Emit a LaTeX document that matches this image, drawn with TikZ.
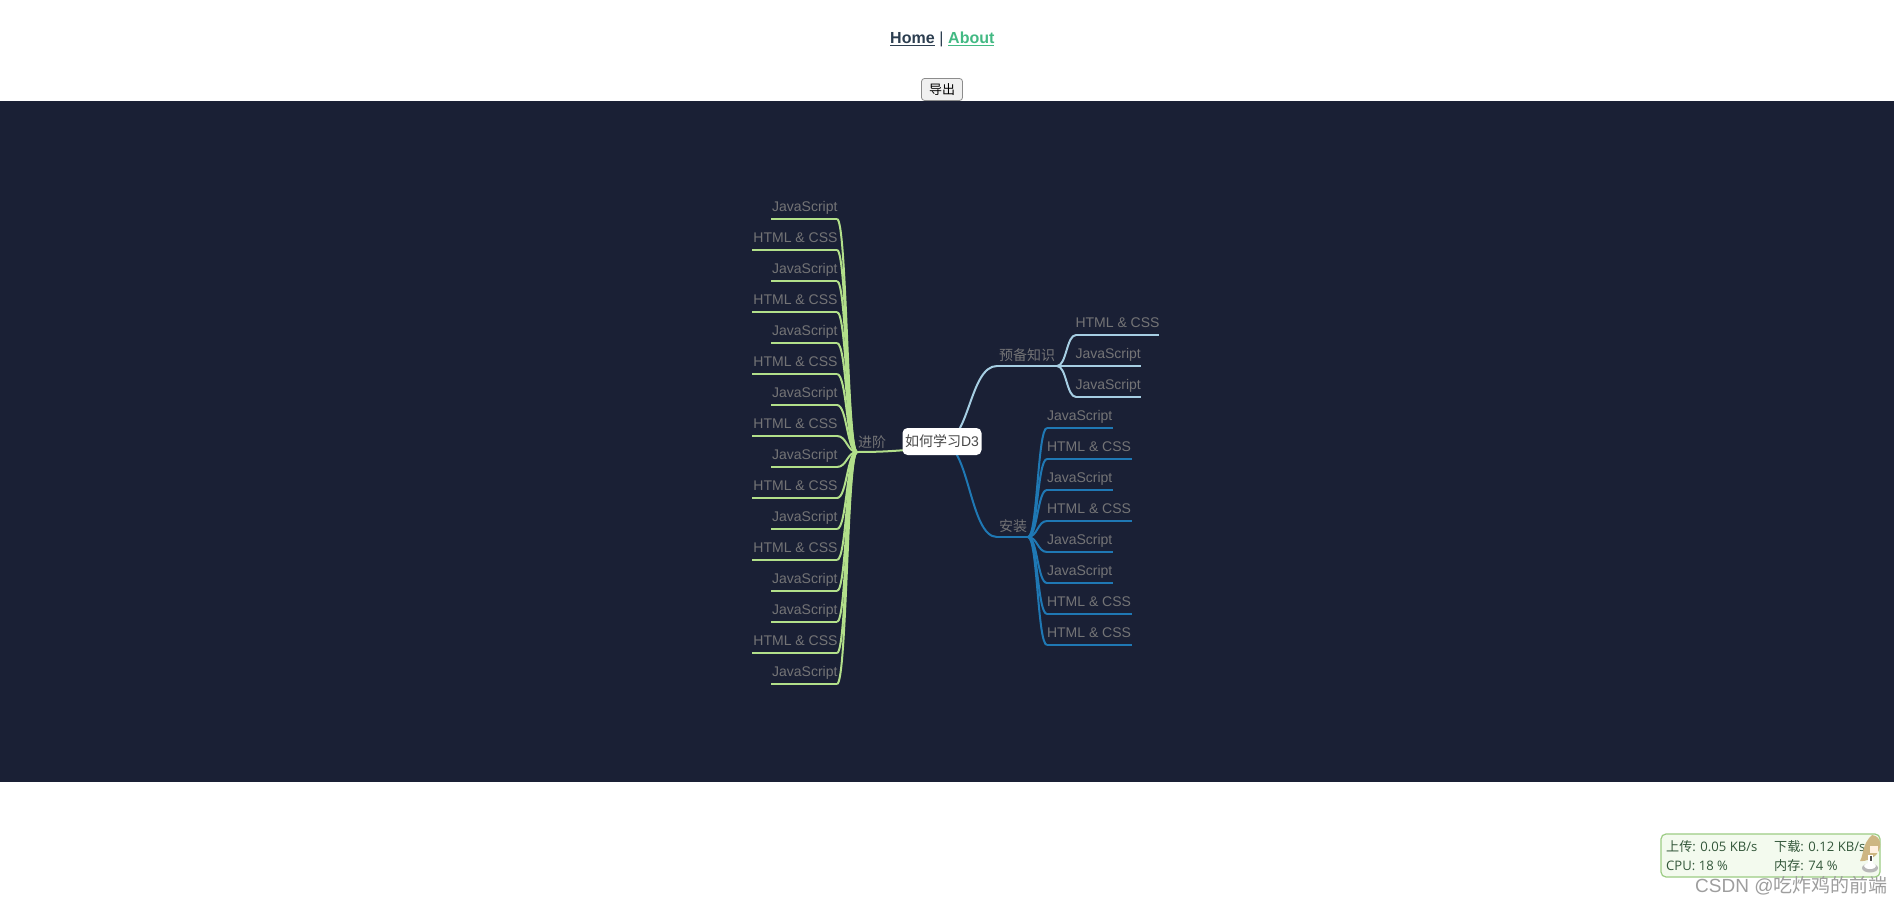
\documentclass[tikz,border=0pt]{standalone}
\usepackage{fontspec}
\usetikzlibrary{calc}
\setmainfont{Liberation Sans}
\newfontfamily\cjk{Noto Sans CJK SC}
\newfontfamily\lat{Liberation Sans}
\newfontfamily\wid{Open Sans}
\definecolor{pagedark}{HTML}{1A2035}
\definecolor{lab}{HTML}{747476}
\definecolor{gr}{HTML}{B2DF8A}
\definecolor{lb}{HTML}{A6CEE3}
\definecolor{db}{HTML}{1F78B4}
\definecolor{navd}{HTML}{2C3E50}
\definecolor{navg}{HTML}{42B983}
\definecolor{wgb}{HTML}{9CCC84}
\definecolor{wgf}{HTML}{F3FAEE}
\definecolor{wgt}{HTML}{33573A}
\definecolor{wm}{HTML}{9E9E9E}
\definecolor{hair}{HTML}{CDB682}
\tikzset{
  lbl/.style={font=\fontsize{14}{14}\selectfont\lat,text=lab,inner sep=0pt,outer sep=0pt},
  wdg/.style={font=\fontsize{13.1}{13}\selectfont\wid,text=wgt,inner sep=0pt,anchor=base west},
  lnk/.style={line width=2pt,line cap=butt,line join=round},
}
% \mmlink{colour}{from}{to}: horizontal S-curve between two named coordinates
\newcommand{\mmlink}[3]{%
  \coordinate (mid) at ($(#2)!.5!(#3)$);
  \draw[lnk,#1] (#2) .. controls (mid |- #2) and (mid |- #3) .. (#3);
}
\newcommand{\js}{JavaScript}
\newcommand{\hc}{HTML \& CSS}
\begin{document}
\begin{tikzpicture}[x=1pt,y=-1pt]
\useasboundingbox (0,0) rectangle (1902,904);
\fill[white] (0,0) rectangle (1902,904);
\fill[pagedark] (0,101) rectangle (1894,782);

% navigation
\node[font=\fontsize{16}{16}\selectfont\bfseries,text=navd,inner sep=0pt,anchor=base west] (home) at (890,44) {\underline{Home}};
\node[font=\fontsize{16}{16}\selectfont,text=navd,inner sep=0pt,anchor=base] (sep) at (941.5,44) {|};
\node[font=\fontsize{16}{16}\selectfont\bfseries,text=navg,inner sep=0pt,anchor=base west] (about) at (948,44) {\underline{About}};
\node[draw=black!45,line width=.8pt,fill=black!6,rounded corners=3pt,minimum width=41pt,minimum height=22pt,inner sep=0pt,font=\fontsize{13}{13}\selectfont\cjk,text=black] (logout) at (942,89.5) {导出};

% hubs
\coordinate (root) at (942,443);
\coordinate (rootg) at (942,449);
\coordinate (gh) at (857,452);
\coordinate (lh) at (1057,366);
\coordinate (bh) at (1028,537);
\coordinate (lk) at (997,366);
\coordinate (bk) at (997,537);

% green branch
\foreach \i/\y/\x/\t/\b in {1/219/771/\js/211.5,2/250/752/\hc/242,3/281/771/\js/273,4/312/752/\hc/304,5/343/771/\js/335,6/374/752/\hc/366,7/405/771/\js/397,8/436/752/\hc/428,9/467/771/\js/459,10/498/752/\hc/490,11/529/771/\js/521,12/560/752/\hc/552,13/591/771/\js/583,14/622/771/\js/614,15/653/752/\hc/645,16/684/771/\js/676}{
  \coordinate (gs\i) at (837,\y);
  \coordinate (ge\i) at (\x,\y);
  \mmlink{gr}{gh}{gs\i}
  \draw[lnk,gr] (gs\i) -- (ge\i);
  \node[lbl,anchor=base east] (gl\i) at (837.5,\b) {\t};
}
\mmlink{gr}{rootg}{gh}
\node[lbl,anchor=base west] (gt) at (858,447) {\cjk 进阶};

% light blue branch
\foreach \i/\y/\x/\t in {1/335/1159/\hc,2/366/1141/\js,3/397/1141/\js}{
  \coordinate (ls\i) at (1076,\y);
  \coordinate (le\i) at (\x,\y);
  \mmlink{lb}{lh}{ls\i}
  \draw[lnk,lb] (ls\i) -- (le\i);
  \node[lbl,anchor=base west] (ll\i) at (1075.5,\y-8) {\t};
}
\mmlink{lb}{root}{lk}
\draw[lnk,lb] (lk) -- (lh);
\node[lbl,anchor=base west] (lt) at (999,360) {\cjk 预备知识};

% dark blue branch
\foreach \i/\y/\x/\t in {1/428/1113/\js,2/459/1132/\hc,3/490/1113/\js,4/521/1132/\hc,5/552/1113/\js,6/583/1113/\js,7/614/1132/\hc,8/645/1132/\hc}{
  \coordinate (bs\i) at (1047,\y);
  \coordinate (be\i) at (\x,\y);
  \mmlink{db}{bh}{bs\i}
  \draw[lnk,db] (bs\i) -- (be\i);
  \node[lbl,anchor=base west] (bl\i) at (1047,\y-8) {\t};
}
\mmlink{db}{root}{bk}
\draw[lnk,db] (bk) -- (bh);
\node[lbl,anchor=base west] (bt) at (999,531) {\cjk 安装};

% root
\node[fill=white,rounded corners=5pt,minimum width=79pt,minimum height=27pt,inner sep=0pt,font=\fontsize{14}{14}\selectfont,text=black!72] (rootbox) at (942,441.5) {{\cjk 如何学习}\lat D3};

% network widget
\draw[wgb,line width=1.2pt,fill=wgf,rounded corners=5pt] (1661,834) rectangle (1880,877);
\node[wdg] (w1) at (1666,851) {{\cjk 上传}: 0.05 KB/s};
\node[wdg] (w2) at (1774,851) {{\cjk 下载}: 0.12 KB/s};
\node[wdg] (w3) at (1666,870) {CPU: 18 \%};
\node[wdg] (w4) at (1774,870) {{\cjk 内存}: 74 \%};

% mascot
\fill[black!28] (1870,868) ellipse (8pt and 4.5pt);
\fill[white] (1870,866) ellipse (6pt and 3pt);
\fill[hair] (1872,835) .. controls (1881,836) and (1882,846) .. (1878,852) .. controls (1876,857) and (1866,862) .. (1860,861) .. controls (1864,854) and (1862,844) .. (1872,835) -- cycle;
\fill[orange!12!white] (1870,846) rectangle (1878,853);
\fill[white] (1868,855) rectangle (1873,864);
\fill[black!70] (1869.5,856) rectangle (1871.5,861);

% watermark
\node[font=\fontsize{19}{19}\selectfont,text=wm,inner sep=0pt,anchor=base west] (wmk) at (1695,892) {\lat CSDN @{\cjk 吃炸鸡的前端}};
\end{tikzpicture}
\end{document}
